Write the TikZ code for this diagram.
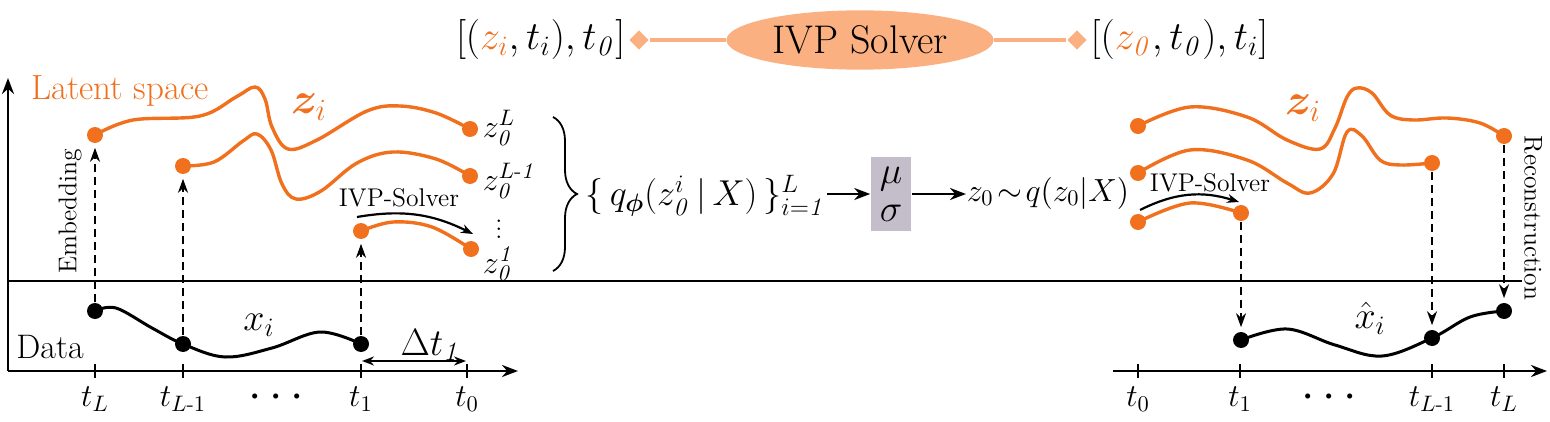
\RequirePackage{fix-cm}
\documentclass[tikz,border=0pt]{standalone}
\usepackage{amsmath}
\usepackage{amssymb}
\usepackage{bm}
\usetikzlibrary{shapes.geometric}
\usetikzlibrary{positioning}
\usetikzlibrary{arrows.meta}
\usetikzlibrary{decorations.pathreplacing}

\definecolor{latent}{RGB}{240,112,30}
\definecolor{solverfill}{RGB}{250,176,128}
\definecolor{boxfill}{RGB}{196,190,203}

\begin{document}
\begin{tikzpicture}[x=0.5pt,y=-0.5pt,>={Stealth[length=8pt,width=6pt]},thick,
		font=\fontsize{16}{19}\selectfont,
		orange dot/.style={circle,fill=latent,inner sep=0pt,minimum size=8pt},
		black dot/.style={circle,fill=black,inner sep=0pt,minimum size=8pt},
		latent curve/.style={draw=latent,line width=1.7pt},
		data curve/.style={draw=black,line width=1.5pt},
		axis line/.style={line width=1.4pt},
		dash arrow/.style={-{Stealth[length=7pt,width=5pt]},dashed,dash pattern=on 4pt off 2.5pt,line width=1.1pt,shorten >=2pt},
		solver arrow/.style={-{Stealth[length=6pt,width=4.5pt]},line width=1.1pt},
		small text/.style={font=\fontsize{12.8}{15}\selectfont},
		big math/.style={font=\fontsize{19}{22}\selectfont},
		top text/.style={font=\fontsize{20}{24}\selectfont},
		tip/.style={diamond,fill=solverfill,inner sep=0pt,minimum size=10pt}]

		\useasboundingbox (0,0) rectangle (1550,422);

		% top row
		\node[ellipse,fill=solverfill,minimum width=130pt,minimum height=28pt,top text] (solver) at (860,40) {IVP Solver};
		\node[tip] (dl) at (639,40) {};
		\node[tip] (dr) at (1077,40) {};
		\node[top text,left=0pt of dl,inner sep=1pt] (lhs) {$[(\textcolor{latent}{z_i},t_i),t_{\mathit{0}}]$};
		\node[top text,right=0pt of dr,inner sep=1pt] (rhs) {$[(\textcolor{latent}{z_{\mathit{0}}},t_{\mathit{0}}),t_i]$};
		\draw[solverfill,line width=1.6pt] (dl) -- (solver);
		\draw[solverfill,line width=1.6pt] (solver) -- (dr);

		% axes
		\coordinate (O) at (8,371);
		\coordinate (Ytop) at (8,78);
		\coordinate (Xend) at (518,371);
		\coordinate (sepL) at (8,281);
		\coordinate (sepR) at (1522,281);
		\coordinate (R0) at (1113,371);
		\coordinate (Rend) at (1547,371);
		\draw[axis line,->] (O) -- (Ytop);
		\draw[axis line,->] (O) -- (Xend);
		\draw[axis line] (sepL) -- (sepR);
		\draw[axis line,->] (R0) -- (Rend);

		\foreach \x/\lab [count=\i] in {95/t_L,183/t_{L\text{-}1},361/t_1,467/t_0}{
			\draw[axis line] (\x,364) -- (\x,378);
			\node[anchor=north,inner sep=0pt] (tl\i) at (\x,386) {$\lab$};
		}
		\foreach \x/\lab [count=\i] in {1138/t_0,1240/t_1,1432/t_{L\text{-}1},1504/t_L}{
			\draw[axis line] (\x,364) -- (\x,378);
			\node[anchor=north,inner sep=0pt] (tr\i) at (\x,386) {$\lab$};
		}
		\node[font=\fontsize{24}{28}\selectfont] (dotsl) at (280,398) {$\cdots$};
		\node[font=\fontsize{24}{28}\selectfont] (dotsr) at (1333,398) {$\cdots$};

		% data
		\node[black dot] (xL) at (95,311) {};
		\node[black dot] (xL1) at (183,344) {};
		\node[black dot] (x1) at (361,344) {};
		\draw[data curve] plot[smooth,tension=0.6] coordinates {(xL.center) (116,308) (152,328) (xL1.center) (225,357) (272,348) (320,332) (x1.center)};
		\node[big math] (xi) at (259,325) {$x_i$};
		\node[font=\fontsize{17}{20}\selectfont] (data) at (50,347) {Data};
		\coordinate (dA) at (362,361);
		\coordinate (dB) at (466,361);
		\draw[{Stealth[length=6pt,width=4.5pt]}-{Stealth[length=6pt,width=4.5pt]},line width=1.1pt] (dA) -- (dB);
		\node[big math] (dt) at (431,345) {$\Delta t_{\mathit{1}}$};

		\node[black dot] (y1) at (1241,340) {};
		\node[black dot] (yL1) at (1432,338) {};
		\node[black dot] (yL) at (1504,311) {};
		\draw[data curve] plot[smooth,tension=0.6] coordinates {(y1.center) (1287,329) (1335,345) (1382,356) (yL1.center) (1470,317) (yL.center)};
		\node[big math] (xhat) at (1370,318) {$\hat{x}_i$};

		% latent paths, left
		\node[font=\fontsize{17.5}{20}\selectfont,text=latent] (latent) at (120,91) {Latent space};
		\node[orange dot] (zL) at (95,135) {};
		\node[orange dot] (zL1) at (183,166) {};
		\node[orange dot] (z1) at (361,231) {};
		\node[orange dot] (z0L) at (470,129) {};
		\node[orange dot] (z0L1) at (470,176) {};
		\node[orange dot] (z01) at (471,249) {};
		\draw[latent curve] plot[smooth,tension=0.6] coordinates {(zL.center) (133,120) (200,116) (236,97) (255,87) (265,99) (272,127) (288,149) (317,140) (367,111) (400,106) (436,113) (z0L.center)};
		\draw[latent curve] plot[smooth,tension=0.6] coordinates {(zL1.center) (214,162) (243,141) (257,134) (271,150) (282,184) (296,199) (321,191) (357,163) (393,152) (436,159) (z0L1.center)};
		\draw[latent curve] plot[smooth,tension=0.6] coordinates {(z1.center) (393,222) (432,227) (z01.center)};
		\node[font=\fontsize{22}{26}\selectfont,text=latent] (zil) at (309,107) {$\bm{z}_i$};
		\node[anchor=west,inner sep=0pt] (lz0L) at (482,128) {$z_{\mathit{0}}^{L}$};
		\node[anchor=west,inner sep=0pt] (lz0L1) at (482,181) {$z_{\mathit{0}}^{L\text{-}\mathit{1}}$};
		\node[inner sep=0pt,font=\fontsize{13}{15}\selectfont] (vd) at (499,223) {$\vdots$};
		\node[anchor=west,inner sep=0pt] (lz01) at (482,264) {$z_{\mathit{0}}^{\mathit{1}}$};
		\coordinate (sl1) at (357,217);
		\coordinate (sl2) at (473,234);
		\draw[solver arrow] (sl1) to[bend left=18] (sl2);
		\node[small text] (ivpl) at (399,198) {IVP-Solver};

		\draw[dash arrow] (xL) -- (zL);
		\draw[dash arrow] (xL1) -- (zL1);
		\draw[dash arrow] (x1) -- (z1);
		\node[small text,rotate=90] (emb) at (70,211) {Embedding};

		% encoder
		\coordinate (braceTop) at (553,117);
		\coordinate (braceBot) at (553,271);
		\draw[line width=0.9pt,decorate,decoration={brace,amplitude=12pt}] (braceTop) -- (braceBot);
		\node[anchor=west,inner sep=0pt,font=\fontsize{18}{21}\selectfont] (qset) at (585,196) {$\{\,q_{\bm{\phi}}(z_{\mathit{0}}^{i}\,|\,X)\,\}_{i=\mathit{1}}^{L}$};
		\node[fill=boxfill,minimum width=20pt,minimum height=37pt,inner sep=0pt,align=center,big math] (musig) at (891,194) {$\mu$\\[-3pt]$\sigma$};
		\node[anchor=west,inner sep=0pt] (zsamp) at (966,193) {$z_0\!\sim\! q(z_0|X)$};
		\draw[->,axis line] (qset.east |- musig.west) -- (musig.west);
		\draw[->,axis line] (musig.east) -- (zsamp.west |- musig.east);

		% latent paths, right
		\node[orange dot] (rA) at (1138,126) {};
		\node[orange dot] (rB) at (1138,173) {};
		\node[orange dot] (rC) at (1138,222) {};
		\node[orange dot] (rAe) at (1504,136) {};
		\node[orange dot] (rBe) at (1432,163) {};
		\node[orange dot] (rCe) at (1241,213) {};
		\draw[latent curve] plot[smooth,tension=0.6] coordinates {(rA.center) (1190,107) (1247,117) (1287,140) (1320,149) (1335,128) (1347,97) (1357,88) (1372,93) (1390,115) (1413,120) (1447,118) (1480,123) (rAe.center)};
		\draw[latent curve] plot[smooth,tension=0.6] coordinates {(rB.center) (1190,150) (1247,160) (1287,183) (1310,193) (1333,174) (1347,132) (1362,136) (1380,160) (1400,165) (rBe.center)};
		\draw[latent curve] plot[smooth,tension=0.6] coordinates {(rC.center) (1190,203) (rCe.center)};
		\node[font=\fontsize{22}{26}\selectfont,text=latent] (zir) at (1303,108) {$\bm{z}_i$};
		\coordinate (sr1) at (1140,210);
		\coordinate (sr2) at (1239,202);
		\draw[solver arrow] (sr1) to[bend left=22] (sr2);
		\node[small text] (ivpr) at (1210,183) {IVP-Solver};

		\draw[dash arrow] (rCe) -- (y1);
		\draw[dash arrow] (rBe) -- (yL1);
		\draw[dash arrow] (rAe) -- (yL);
		\node[small text,rotate=-90] (rec) at (1533,218) {Reconstruction};
\end{tikzpicture}
\end{document}
